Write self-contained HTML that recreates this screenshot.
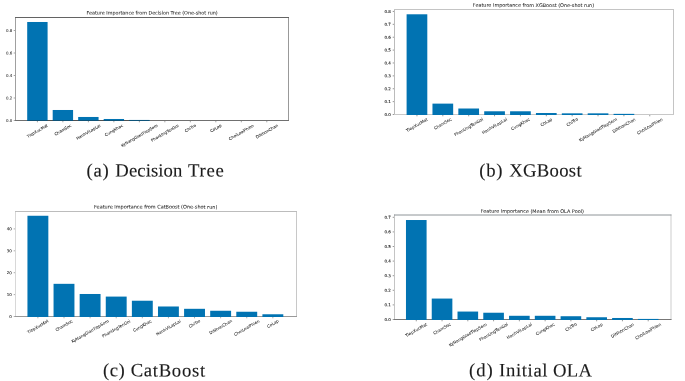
<!DOCTYPE html>
<html lang="en"><head><meta charset="utf-8"><title>Feature importance</title>
<style>
html,body{margin:0;padding:0;background:#fff;}
body{width:685px;height:381px;overflow:hidden;}
svg{display:block;text-rendering:geometricPrecision;}
.t{font-family:"DejaVu Sans","Liberation Sans",sans-serif;fill:#222;stroke:#222;}
.cap{font-family:"Liberation Serif","DejaVu Serif",serif;fill:#1c1c1c;stroke:#1c1c1c;stroke-width:0.12;}
</style></head><body>
<svg width="685" height="381" viewBox="0 0 685 381">
<rect x="0" y="0" width="685" height="381" fill="#fff"/>
<g id="chart-a">
<path d="M13.70 120.50H15.5M13.70 98.00H15.5M13.70 75.50H15.5M13.70 53.00H15.5M13.70 30.50H15.5M37.40 120.5v1.8M62.89 120.5v1.8M88.38 120.5v1.8M113.87 120.5v1.8M139.36 120.5v1.8M164.85 120.5v1.8M190.34 120.5v1.8M215.83 120.5v1.8M241.32 120.5v1.8M266.81 120.5v1.8" stroke="#666" stroke-width="0.6" fill="none"/>
<path d="M15.5 17.0V121.0" stroke="#a0a0a0" stroke-width="1" fill="none"/>
<path d="M288.5 17.0V121.0" stroke="#999" stroke-width="1" fill="none"/>
<path d="M15.0 17.5H289.0" stroke="#636363" stroke-width="1" fill="none"/>
<path d="M15.0 120.5H289.0" stroke="#707070" stroke-width="1" fill="none"/>
<rect x="27.20" y="21.99" width="20.39" height="99.01" fill="#0173b2"/>
<rect x="52.69" y="109.99" width="20.39" height="11.01" fill="#0173b2"/>
<rect x="78.18" y="116.97" width="20.39" height="4.03" fill="#0173b2"/>
<rect x="103.67" y="118.99" width="20.39" height="2.01" fill="#0173b2"/>
<rect x="129.16" y="119.94" width="20.39" height="1.06" fill="#0173b2"/>
<path d="M27.20 120.5H149.56" stroke="#222" stroke-width="1" opacity="0.4" fill="none"/>
<text class="t" x="12.30" y="121.94" font-size="4.0" stroke-width="0.04" text-anchor="end" transform="rotate(0.1 8.9 120.50)">0.0</text>
<text class="t" x="12.30" y="99.44" font-size="4.0" stroke-width="0.04" text-anchor="end" transform="rotate(0.1 8.9 98.00)">0.2</text>
<text class="t" x="12.30" y="76.94" font-size="4.0" stroke-width="0.04" text-anchor="end" transform="rotate(0.1 8.9 75.50)">0.4</text>
<text class="t" x="12.30" y="54.44" font-size="4.0" stroke-width="0.04" text-anchor="end" transform="rotate(0.1 8.9 53.00)">0.6</text>
<text class="t" x="12.30" y="31.94" font-size="4.0" stroke-width="0.04" text-anchor="end" transform="rotate(0.1 8.9 30.50)">0.8</text>
<text class="t" x="37.40" y="132.39" font-size="4.0" stroke-width="0.05" text-anchor="middle" transform="rotate(-30 37.40 130.95)">TiepXucMat</text>
<text class="t" x="62.89" y="131.26" font-size="4.0" stroke-width="0.05" text-anchor="middle" transform="rotate(-30 62.89 129.82)">ChamSoc</text>
<text class="t" x="88.38" y="133.37" font-size="4.0" stroke-width="0.05" text-anchor="middle" transform="rotate(-30 88.38 131.93)">HanhViLapLai</text>
<text class="t" x="113.87" y="131.60" font-size="4.0" stroke-width="0.05" text-anchor="middle" transform="rotate(-30 113.87 130.16)">CungKhac</text>
<text class="t" x="139.36" y="136.96" font-size="4.0" stroke-width="0.05" text-anchor="middle" transform="rotate(-30 139.36 135.52)">KyNangGiaoTiepSom</text>
<text class="t" x="164.85" y="134.39" font-size="4.0" stroke-width="0.05" text-anchor="middle" transform="rotate(-30 164.85 132.95)">PhanUngTenGoi</text>
<text class="t" x="190.34" y="129.62" font-size="4.0" stroke-width="0.05" text-anchor="middle" transform="rotate(-30 190.34 128.18)">ChiTro</text>
<text class="t" x="215.83" y="129.66" font-size="4.0" stroke-width="0.05" text-anchor="middle" transform="rotate(-30 215.83 128.22)">CoLap</text>
<text class="t" x="241.32" y="133.58" font-size="4.0" stroke-width="0.05" text-anchor="middle" transform="rotate(-30 241.32 132.14)">ChoiLoaiPhien</text>
<text class="t" x="266.81" y="132.80" font-size="4.0" stroke-width="0.05" text-anchor="middle" transform="rotate(-30 266.81 131.36)">DiNhonChan</text>
<text class="t" x="152.10" y="14.5" font-size="4.85" stroke-width="0.04" text-anchor="middle" transform="rotate(0.1 152.0 14.5)">Feature Importance from Decision Tree (One-shot run)</text>
</g>
<g id="chart-b">
<path d="M392.70 114.50H394.5M392.70 101.62H394.5M392.70 88.74H394.5M392.70 75.86H394.5M392.70 62.98H394.5M392.70 50.10H394.5M392.70 37.22H394.5M392.70 24.34H394.5M392.70 11.46H394.5M416.95 114.5v1.8M442.82 114.5v1.8M468.69 114.5v1.8M494.56 114.5v1.8M520.43 114.5v1.8M546.30 114.5v1.8M572.17 114.5v1.8M598.04 114.5v1.8M623.91 114.5v1.8M649.78 114.5v1.8" stroke="#555" stroke-width="0.6" fill="none"/>
<path d="M394.5 9.0V115.0" stroke="#bbb" stroke-width="1" fill="none"/>
<path d="M673.5 9.0V115.0" stroke="#c4c4c4" stroke-width="1" fill="none"/>
<path d="M394.0 9.5H674.0" stroke="#c4c4c4" stroke-width="1" fill="none"/>
<path d="M394.0 114.5H674.0" stroke="#c8c8c8" stroke-width="1" fill="none"/>
<rect x="406.60" y="14.29" width="20.70" height="100.71" fill="#0173b2"/>
<rect x="432.47" y="103.62" width="20.70" height="11.38" fill="#0173b2"/>
<rect x="458.34" y="108.51" width="20.70" height="6.49" fill="#0173b2"/>
<rect x="484.21" y="111.28" width="20.70" height="3.72" fill="#0173b2"/>
<rect x="510.08" y="111.28" width="20.70" height="3.72" fill="#0173b2"/>
<rect x="535.95" y="113.02" width="20.70" height="1.98" fill="#0173b2"/>
<rect x="561.82" y="113.34" width="20.70" height="1.66" fill="#0173b2"/>
<rect x="587.69" y="113.34" width="20.70" height="1.66" fill="#0173b2"/>
<rect x="613.56" y="113.86" width="20.70" height="1.14" fill="#0173b2"/>
<text class="t" x="390.90" y="115.94" font-size="4.0" stroke-width="0.12" text-anchor="end" transform="rotate(0.1 387.9 114.50)">0.0</text>
<text class="t" x="390.90" y="103.06" font-size="4.0" stroke-width="0.12" text-anchor="end" transform="rotate(0.1 387.9 101.62)">0.1</text>
<text class="t" x="390.90" y="90.18" font-size="4.0" stroke-width="0.12" text-anchor="end" transform="rotate(0.1 387.9 88.74)">0.2</text>
<text class="t" x="390.90" y="77.30" font-size="4.0" stroke-width="0.12" text-anchor="end" transform="rotate(0.1 387.9 75.86)">0.3</text>
<text class="t" x="390.90" y="64.42" font-size="4.0" stroke-width="0.12" text-anchor="end" transform="rotate(0.1 387.9 62.98)">0.4</text>
<text class="t" x="390.90" y="51.54" font-size="4.0" stroke-width="0.12" text-anchor="end" transform="rotate(0.1 387.9 50.10)">0.5</text>
<text class="t" x="390.90" y="38.66" font-size="4.0" stroke-width="0.12" text-anchor="end" transform="rotate(0.1 387.9 37.22)">0.6</text>
<text class="t" x="390.90" y="25.78" font-size="4.0" stroke-width="0.12" text-anchor="end" transform="rotate(0.1 387.9 24.34)">0.7</text>
<text class="t" x="390.90" y="12.90" font-size="4.0" stroke-width="0.12" text-anchor="end" transform="rotate(0.1 387.9 11.46)">0.8</text>
<text class="t" x="416.95" y="126.34" font-size="4.15" stroke-width="0.05" text-anchor="middle" transform="rotate(-30 416.95 124.85)">TiepXucMat</text>
<text class="t" x="442.82" y="125.17" font-size="4.15" stroke-width="0.05" text-anchor="middle" transform="rotate(-30 442.82 123.68)">ChamSoc</text>
<text class="t" x="468.69" y="128.41" font-size="4.15" stroke-width="0.05" text-anchor="middle" transform="rotate(-30 468.69 126.92)">PhanUngTenGoi</text>
<text class="t" x="494.56" y="127.36" font-size="4.15" stroke-width="0.05" text-anchor="middle" transform="rotate(-30 494.56 125.87)">HanhViLapLai</text>
<text class="t" x="520.43" y="125.52" font-size="4.15" stroke-width="0.05" text-anchor="middle" transform="rotate(-30 520.43 124.03)">CungKhac</text>
<text class="t" x="546.30" y="123.51" font-size="4.15" stroke-width="0.05" text-anchor="middle" transform="rotate(-30 546.30 122.02)">CoLap</text>
<text class="t" x="572.17" y="123.47" font-size="4.15" stroke-width="0.05" text-anchor="middle" transform="rotate(-30 572.17 121.97)">ChiTro</text>
<text class="t" x="598.04" y="131.08" font-size="4.15" stroke-width="0.05" text-anchor="middle" transform="rotate(-30 598.04 129.59)">KyNangGiaoTiepSom</text>
<text class="t" x="623.91" y="126.77" font-size="4.15" stroke-width="0.05" text-anchor="middle" transform="rotate(-30 623.91 125.27)">DiNhonChan</text>
<text class="t" x="649.78" y="127.57" font-size="4.15" stroke-width="0.05" text-anchor="middle" transform="rotate(-30 649.78 126.08)">ChoiLoaiPhien</text>
<text class="t" x="533.50" y="6.9" font-size="4.92" stroke-width="0.04" text-anchor="middle" transform="rotate(0.1 534.0 6.9)">Feature Importance from XGBoost (One-shot run)</text>
</g>
<g id="chart-c">
<path d="M13.70 316.50H15.5M13.70 294.60H15.5M13.70 272.70H15.5M13.70 250.80H15.5M13.70 228.90H15.5M37.89 316.5v1.8M64.00 316.5v1.8M90.10 316.5v1.8M116.21 316.5v1.8M142.32 316.5v1.8M168.43 316.5v1.8M194.53 316.5v1.8M220.64 316.5v1.8M246.75 316.5v1.8M272.85 316.5v1.8" stroke="#777" stroke-width="0.6" fill="none"/>
<path d="M15.5 211.0V317.0" stroke="#d8d8d8" stroke-width="1" fill="none"/>
<path d="M296.5 211.0V317.0" stroke="#c8c8c8" stroke-width="1" fill="none"/>
<path d="M15.0 211.5H297.0" stroke="#bcbcbc" stroke-width="1" fill="none"/>
<path d="M15.0 316.5H297.0" stroke="#999" stroke-width="1" fill="none"/>
<rect x="27.45" y="215.76" width="20.89" height="101.24" fill="#0173b2"/>
<rect x="53.55" y="283.83" width="20.89" height="33.17" fill="#0173b2"/>
<rect x="79.66" y="293.99" width="20.89" height="23.01" fill="#0173b2"/>
<rect x="105.77" y="296.59" width="20.89" height="20.41" fill="#0173b2"/>
<rect x="131.88" y="300.73" width="20.89" height="16.27" fill="#0173b2"/>
<rect x="157.98" y="306.49" width="20.89" height="10.51" fill="#0173b2"/>
<rect x="184.09" y="308.81" width="20.89" height="8.19" fill="#0173b2"/>
<rect x="210.20" y="310.76" width="20.89" height="6.24" fill="#0173b2"/>
<rect x="236.30" y="311.75" width="20.89" height="5.25" fill="#0173b2"/>
<rect x="262.41" y="314.27" width="20.89" height="2.73" fill="#0173b2"/>
<text class="t" x="11.90" y="317.94" font-size="4.0" stroke-width="0.08" text-anchor="end" transform="rotate(0.1 8.9 316.50)">0</text>
<text class="t" x="11.90" y="296.04" font-size="4.0" stroke-width="0.08" text-anchor="end" transform="rotate(0.1 8.9 294.60)">10</text>
<text class="t" x="11.90" y="274.14" font-size="4.0" stroke-width="0.08" text-anchor="end" transform="rotate(0.1 8.9 272.70)">20</text>
<text class="t" x="11.90" y="252.24" font-size="4.0" stroke-width="0.08" text-anchor="end" transform="rotate(0.1 8.9 250.80)">30</text>
<text class="t" x="11.90" y="230.34" font-size="4.0" stroke-width="0.08" text-anchor="end" transform="rotate(0.1 8.9 228.90)">40</text>
<text class="t" x="37.89" y="327.98" font-size="4.08" stroke-width="0.05" text-anchor="middle" transform="rotate(-30 37.89 326.51)">TiepXucMat</text>
<text class="t" x="64.00" y="326.83" font-size="4.08" stroke-width="0.05" text-anchor="middle" transform="rotate(-30 64.00 325.36)">ChamSoc</text>
<text class="t" x="90.10" y="332.64" font-size="4.08" stroke-width="0.05" text-anchor="middle" transform="rotate(-30 90.10 331.17)">KyNangGiaoTiepSom</text>
<text class="t" x="116.21" y="330.01" font-size="4.08" stroke-width="0.05" text-anchor="middle" transform="rotate(-30 116.21 328.54)">PhanUngTenGoi</text>
<text class="t" x="142.32" y="327.17" font-size="4.08" stroke-width="0.05" text-anchor="middle" transform="rotate(-30 142.32 325.70)">CungKhac</text>
<text class="t" x="168.43" y="328.98" font-size="4.08" stroke-width="0.05" text-anchor="middle" transform="rotate(-30 168.43 327.51)">HanhViLapLai</text>
<text class="t" x="194.53" y="325.15" font-size="4.08" stroke-width="0.05" text-anchor="middle" transform="rotate(-30 194.53 323.69)">ChiTro</text>
<text class="t" x="220.64" y="328.40" font-size="4.08" stroke-width="0.05" text-anchor="middle" transform="rotate(-30 220.64 326.93)">DiNhonChan</text>
<text class="t" x="246.75" y="329.19" font-size="4.08" stroke-width="0.05" text-anchor="middle" transform="rotate(-30 246.75 327.72)">ChoiLoaiPhien</text>
<text class="t" x="272.85" y="325.20" font-size="4.08" stroke-width="0.05" text-anchor="middle" transform="rotate(-30 272.85 323.73)">CoLap</text>
<text class="t" x="155.70" y="208.55" font-size="4.957" stroke-width="0.04" text-anchor="middle" transform="rotate(0.1 156.0 208.55)">Feature Importance from CatBoost (One-shot run)</text>
</g>
<g id="chart-d">
<path d="M392.70 319.50H394.5M392.70 304.90H394.5M392.70 290.30H394.5M392.70 275.70H394.5M392.70 261.10H394.5M392.70 246.50H394.5M392.70 231.90H394.5M392.70 217.30H394.5M416.28 319.5v1.8M442.05 319.5v1.8M467.82 319.5v1.8M493.59 319.5v1.8M519.36 319.5v1.8M545.13 319.5v1.8M570.90 319.5v1.8M596.67 319.5v1.8M622.44 319.5v1.8M648.21 319.5v1.8" stroke="#555" stroke-width="0.6" fill="none"/>
<path d="M394.5 214.5V320.0" stroke="#c4c4c4" stroke-width="1" fill="none"/>
<path d="M671.0 214.5V320.0" stroke="#e2e2e2" stroke-width="1.7" fill="none"/>
<path d="M394.0 215.0H671.5" stroke="#8e9498" stroke-width="1" fill="none"/>
<path d="M394.0 319.5H671.5" stroke="#777" stroke-width="1" fill="none"/>
<rect x="405.97" y="220.02" width="20.62" height="99.98" fill="#0173b2"/>
<rect x="431.74" y="298.56" width="20.62" height="21.44" fill="#0173b2"/>
<rect x="457.51" y="311.56" width="20.62" height="8.44" fill="#0173b2"/>
<rect x="483.28" y="312.73" width="20.62" height="7.27" fill="#0173b2"/>
<rect x="509.05" y="315.79" width="20.62" height="4.21" fill="#0173b2"/>
<rect x="534.82" y="315.79" width="20.62" height="4.21" fill="#0173b2"/>
<rect x="560.59" y="316.23" width="20.62" height="3.77" fill="#0173b2"/>
<rect x="586.36" y="317.25" width="20.62" height="2.75" fill="#0173b2"/>
<rect x="612.13" y="317.98" width="20.62" height="2.02" fill="#0173b2"/>
<rect x="637.90" y="318.92" width="20.62" height="1.08" fill="#0173b2"/>
<text class="t" x="390.90" y="320.94" font-size="4.0" stroke-width="0.12" text-anchor="end" transform="rotate(0.1 387.9 319.50)">0.0</text>
<text class="t" x="390.90" y="306.34" font-size="4.0" stroke-width="0.12" text-anchor="end" transform="rotate(0.1 387.9 304.90)">0.1</text>
<text class="t" x="390.90" y="291.74" font-size="4.0" stroke-width="0.12" text-anchor="end" transform="rotate(0.1 387.9 290.30)">0.2</text>
<text class="t" x="390.90" y="277.14" font-size="4.0" stroke-width="0.12" text-anchor="end" transform="rotate(0.1 387.9 275.70)">0.3</text>
<text class="t" x="390.90" y="262.54" font-size="4.0" stroke-width="0.12" text-anchor="end" transform="rotate(0.1 387.9 261.10)">0.4</text>
<text class="t" x="390.90" y="247.94" font-size="4.0" stroke-width="0.12" text-anchor="end" transform="rotate(0.1 387.9 246.50)">0.5</text>
<text class="t" x="390.90" y="233.34" font-size="4.0" stroke-width="0.12" text-anchor="end" transform="rotate(0.1 387.9 231.90)">0.6</text>
<text class="t" x="390.90" y="218.74" font-size="4.0" stroke-width="0.12" text-anchor="end" transform="rotate(0.1 387.9 217.30)">0.7</text>
<text class="t" x="416.28" y="331.34" font-size="4.15" stroke-width="0.05" text-anchor="middle" transform="rotate(-30 416.28 329.85)">TiepXucMat</text>
<text class="t" x="442.05" y="330.17" font-size="4.15" stroke-width="0.05" text-anchor="middle" transform="rotate(-30 442.05 328.68)">ChamSoc</text>
<text class="t" x="467.82" y="336.08" font-size="4.15" stroke-width="0.05" text-anchor="middle" transform="rotate(-30 467.82 334.59)">KyNangGiaoTiepSom</text>
<text class="t" x="493.59" y="333.41" font-size="4.15" stroke-width="0.05" text-anchor="middle" transform="rotate(-30 493.59 331.92)">PhanUngTenGoi</text>
<text class="t" x="519.36" y="332.36" font-size="4.15" stroke-width="0.05" text-anchor="middle" transform="rotate(-30 519.36 330.87)">HanhViLapLai</text>
<text class="t" x="545.13" y="330.52" font-size="4.15" stroke-width="0.05" text-anchor="middle" transform="rotate(-30 545.13 329.03)">CungKhac</text>
<text class="t" x="570.90" y="328.47" font-size="4.15" stroke-width="0.05" text-anchor="middle" transform="rotate(-30 570.90 326.97)">ChiTro</text>
<text class="t" x="596.67" y="328.51" font-size="4.15" stroke-width="0.05" text-anchor="middle" transform="rotate(-30 596.67 327.02)">CoLap</text>
<text class="t" x="622.44" y="331.77" font-size="4.15" stroke-width="0.05" text-anchor="middle" transform="rotate(-30 622.44 330.27)">DiNhonChan</text>
<text class="t" x="648.21" y="332.57" font-size="4.15" stroke-width="0.05" text-anchor="middle" transform="rotate(-30 648.21 331.08)">ChoiLoaiPhien</text>
<text class="t" x="532.30" y="212.9" font-size="4.92" stroke-width="0.04" text-anchor="middle" transform="rotate(0.1 532.8 212.9)">Feature Importance (Mean from OLA Pool)</text>
</g>
<text class="cap" y="176.5" font-size="18.7" transform="rotate(0.1 155.2 176.5)"><tspan x="86.46" letter-spacing="0.788">(a) </tspan><tspan x="115.35" letter-spacing="0.073">Decision </tspan><tspan x="188.14" letter-spacing="0.686">Tree</tspan></text>
<text class="cap" y="176.5" font-size="18.7" transform="rotate(0.1 530.8 176.5)"><tspan x="479.26" letter-spacing="0.688">(b) </tspan><tspan x="509.22" letter-spacing="0.298">XGBoost</tspan></text>
<text class="cap" y="376.4" font-size="18.7" transform="rotate(0.1 154.4 376.4)"><tspan x="103.01" letter-spacing="0.538">(c) </tspan><tspan x="130.66" letter-spacing="0.700">CatBoost</tspan></text>
<text class="cap" y="376.4" font-size="18.7" transform="rotate(0.1 530.9 376.4)"><tspan x="469.01" letter-spacing="0.913">(d) </tspan><tspan x="499.07" letter-spacing="0.645">Initial </tspan><tspan x="553.07" letter-spacing="0.297">OLA</tspan></text>
</svg></body></html>
